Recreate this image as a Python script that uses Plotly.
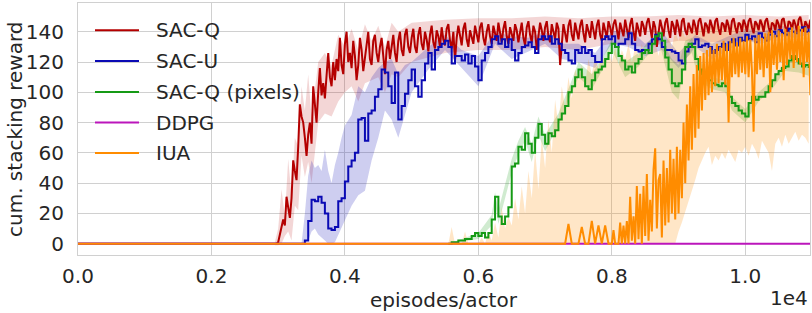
import plotly.graph_objects as go

# ---------------- data ----------------
# SAC-Q (red): flat 0, then values every 25 episodes from 3000
sacq_x = [0, 2975] + list(range(3000, 11000, 25))
sacq_y = [0, 0,
    1, 6, 10, 16, 12, 31, 24, 17, 30, 55, 48, 42, 64, 92, 84, 80, 70, 58, 72, 80,
    66, 104, 92, 80, 100, 116, 98, 106, 96, 114, 126, 110, 104, 120, 108, 122, 114, 136, 118, 112,
    132, 140, 120, 126, 116, 134, 124, 108, 118, 136, 128, 114, 124, 132, 140, 122, 118, 134, 138, 126,
    120, 130, 136, 124, 112, 128, 134, 122, 130, 138, 126, 120, 134, 140, 128, 124, 138, 142, 130, 126,
    136, 142, 130, 126, 138, 143, 132, 128, 140, 135, 127, 138, 144, 133, 129, 141, 137, 130, 143, 135,
    131, 142, 145, 134, 129, 140, 121, 136, 144, 138, 131, 142, 146, 135, 130, 141, 137, 132, 144, 139,
    133, 143, 146, 136, 131, 140, 145, 137, 132, 144, 139, 134, 146, 140, 133, 142, 147, 137, 132, 143,
    138, 134, 145, 141, 133, 140, 146, 136, 131, 143, 147, 138, 133, 144, 140, 128, 137, 146, 141, 134,
    143, 147, 137, 133, 145, 140, 135, 146, 142, 118, 134, 145, 139, 133, 144, 148, 138, 134, 146, 141,
    135, 144, 148, 139, 133, 145, 141, 136, 147, 142, 135, 144, 148, 138, 134, 146, 141, 136, 147, 143,
    137, 145, 148, 140, 135, 146, 142, 137, 148, 143, 136, 145, 149, 140, 134, 146, 142, 137, 147, 144,
    138, 146, 149, 141, 136, 147, 143, 130, 138, 148, 143, 137, 146, 149, 141, 136, 147, 144, 138, 148,
    143, 137, 147, 149, 141, 138, 146, 143, 139, 148, 144, 138, 147, 149, 142, 137, 146, 144, 139, 148,
    144, 139, 147, 149, 142, 138, 146, 145, 140, 148, 144, 138, 147, 149, 143, 139, 146, 145, 140, 148,
    145, 140, 147, 149, 143, 139, 147, 145, 141, 148, 145, 140, 147, 149, 143, 139, 146, 145, 141, 148,
    145, 140, 148, 149, 143, 140, 147, 146, 141, 148, 145, 140, 148, 150, 144, 140, 147, 145, 142, 148]
sacq_band_x = [2950, 3000, 3050, 3100, 3150, 3200, 3250, 3300, 3350, 3400, 3450, 3500,
               3600, 3700, 3800, 3900, 4000, 4100, 4200, 4300, 4400, 4500, 4600, 4700,
               4800, 5000, 5500, 6000, 6500, 7000, 7500, 8000, 8500, 9000, 9500, 10000,
               10500, 10950]
sacq_band_hi = [1, 10, 36, 18, 56, 32, 70, 64, 104, 88, 112, 84,
                120, 126, 118, 138, 130, 142, 128, 145, 134, 144, 130, 146,
                140, 146, 148, 149, 149, 150, 149, 150, 150, 151, 150, 151,
                150, 151]
sacq_band_lo = [-1, -1, 0, 5, 8, 2, 25, 22, 58, 44, 54, 40,
                80, 86, 84, 94, 100, 104, 94, 106, 108, 110, 100, 112,
                110, 120, 126, 128, 128, 130, 128, 132, 130, 134, 133, 134,
                134, 135]

# SAC-U (blue)
sacu_x = [0, 3350] + list(range(3400, 11000, 50))
sacu_y = [0, 0,
    2, 15,
    29, 28, 31, 27, 20, 10, 9, 11, 28, 30,
    41, 51, 55, 60, 82, 83, 68, 86, 88, 97,
    102, 115, 113, 104, 93, 113, 82, 91, 99, 108,
    115, 104, 97, 108, 119, 126, 115, 128, 130, 132,
    134, 130, 119, 124, 124, 121, 125, 119, 124, 117,
    108, 121, 126, 130, 135, 137, 132, 135, 130, 135,
    128, 121, 126, 130, 131, 133, 130, 126, 135, 137,
    135, 137, 132, 135, 132, 128, 126, 121, 119, 128,
    126, 130, 126, 128, 124, 120, 120, 135, 137, 135,
    137, 130, 132, 132, 135, 139, 132, 128, 127, 128,
    128, 132, 135, 138, 135, 130, 128, 128, 127, 126,
    121, 119, 127, 130, 132, 135, 130, 131, 132, 130,
    126, 128, 130, 132, 128, 133, 135, 131, 136, 134,
    138, 135, 137, 133, 139, 136, 134, 138, 140, 137,
    141, 139, 138, 142, 140, 139, 141, 143, 140, 142]
sacu_band_x = [3350, 3400, 3450, 3500, 3550, 3600, 3650, 3700, 3750, 3800, 3850, 3900,
               3950, 4000, 4100, 4200, 4300, 4400, 4500, 4600, 4700, 4800, 4900, 5000,
               5250, 5500, 5750, 6000, 6250, 6500, 6750, 7000, 7250, 7500, 7750, 8000,
               8250, 8500, 8750, 9000, 9250, 9500, 9750, 10000, 10250, 10500, 10750, 10950]
sacu_band_hi = [0, 20, 45, 55, 50, 52, 48, 62, 48, 40, 52, 60,
                70, 78, 85, 104, 100, 110, 116, 120, 122, 112, 118, 120,
                130, 138, 128, 124, 140, 137, 136, 140, 132, 132, 126, 140,
                142, 132, 140, 126, 138, 132, 137, 142, 140, 144, 143, 145]
sacu_band_lo = [0, 0, 2, 8, 10, 6, 4, 2, 0, 0, 1, 5,
                10, 15, 25, 32, 35, 55, 70, 88, 82, 70, 85, 100,
                115, 128, 116, 104, 132, 122, 127, 132, 122, 120, 116, 132,
                130, 124, 128, 116, 130, 122, 128, 134, 132, 137, 136, 138]

# SAC-Q (pixels) (green)
pix_x = list(range(5550, 11000, 50))
pix_y = [
    0, 1, 1, 2, 2, 3, 3, 5, 7,
    5, 7, 4, 7, 16, 31, 18, 13, 18, 24,
    51, 53, 64, 62, 73, 66, 60, 70, 79, 72,
    66, 73, 71, 75, 82, 86, 91, 100, 104, 110,
    115, 110, 104, 102, 108, 113, 115, 117, 122, 126,
    132, 130, 124, 121, 115, 117, 113, 119, 122, 126,
    128, 126, 132, 137, 139, 134, 123, 115, 106, 104,
    106, 115, 130, 132, 130, 122, 115, 112, 110, 108,
    106, 105, 104, 106, 104, 97, 93, 91, 88, 86,
    84, 93, 97, 95, 97, 97, 100, 104, 108, 112,
    114, 116, 117, 121, 124, 122, 119, 117, 118, 116]
pix_band_x = [5550, 6000, 6200, 6250, 6300, 6500, 6600, 6700, 6800, 6900, 7000, 7200,
              7400, 7500, 7700, 7900, 8000, 8200, 8400, 8600, 8700, 8800, 8900, 9000,
              9100, 9200, 9300, 9500, 9700, 9800, 10000, 10200, 10400, 10600, 10800, 10950]
pix_band_hi = [0, 7, 19, 34, 22, 56, 68, 77, 66, 84, 72, 86,
               108, 120, 112, 126, 135, 120, 126, 136, 141, 130, 122, 118,
               134, 136, 122, 110, 108, 97, 89, 100, 108, 121, 122, 120]
pix_band_lo = [0, 3, 12, 27, 13, 47, 59, 68, 54, 72, 61, 78,
               100, 110, 102, 118, 128, 110, 117, 128, 135, 118, 100, 95,
               122, 126, 108, 102, 100, 88, 80, 94, 102, 114, 113, 111]

# DDPG (magenta)
ddpg_x = [0, 2000, 4000, 6000, 8000, 10000, 11000]
ddpg_y = [0, 0, 0, 0, 0, 0, 0]

# IUA (orange)
iua_x = [0] + list(range(7300, 8000, 50)) + list(range(8000, 11000, 25))
iua_y = [0,
    0, 13, 0, 0, 0, 11, 0, 0, 15, 0, 12, 0, 12, 0,
    0, 9, 0, 0, 0, 14, 0, 12, 0, 15, 0, 31, 2, 18, 0, 38, 3, 33, 0, 38,
    5, 46, 2, 29, 8, 49, 63, 10, 42, 46, 4, 55, 12, 50, 14, 62, 20, 56, 16, 64,
    20, 62, 30, 80, 40, 92, 55, 104, 62, 112, 70, 118, 76, 124, 88, 126, 95, 128, 98, 130,
    100, 128, 104, 132, 106, 130, 108, 134, 105, 132, 80, 134, 110, 136, 112, 133, 110, 136, 113, 134,
    112, 137, 110, 135, 114, 74, 136, 112, 138, 115, 136, 110, 139, 116, 140, 100, 141, 118, 138, 115,
    141, 120, 139, 108, 142, 118, 140, 122, 143, 116, 141, 120, 144, 118, 142, 110, 143, 120, 140, 98]
iua_band_x = list(range(5500, 11000, 50))
iua_band_hi = [
    0, 0, 11, 0, 0, 0, 8, 0, 0, 0,
    0, 4, 0, 8, 2, 14, 4, 24, 10, 18,
    12, 30, 16, 38, 20, 48, 30, 62, 36, 70,
    50, 82, 60, 95, 78, 104, 90, 110, 96, 115,
    108, 118, 105, 122, 112, 124, 115, 126, 118, 128,
    120, 130, 118, 128, 122, 132, 120, 130, 124, 132,
    122, 133, 126, 134, 124, 136, 128, 138, 130, 140,
    134, 142, 136, 144, 138, 145, 140, 146, 141, 146,
    142, 147, 143, 146, 144, 148, 143, 147, 145, 148,
    144, 148, 145, 147, 146, 149, 145, 148, 146, 149,
    146, 149, 147, 148, 146, 149, 147, 149, 146, 148]
iua_band_lo = [
    0, 0, 0, 0, 0, 0, 0, 0, 0, 0,
    0, 0, 0, 0, 0, 0, 0, 0, 0, 0,
    0, 0, 0, 0, 0, 0, 0, 0, 0, 0,
    0, 0, 0, 0, 0, 0, 0, 0, 0, 0,
    0, 0, 0, 0, 0, 0, 0, 0, 0, 0,
    0, 0, 0, 0, 0, 0, 0, 0, 0, 0,
    0, 0, 0, 0, 0, 0, 0, 0, 0, 0,
    8, 14, 20, 28, 35, 42, 50, 55, 60, 64,
    52, 58, 55, 60, 56, 62, 58, 54, 62, 60,
    64, 58, 66, 62, 56, 68, 64, 60, 48, 66,
    70, 64, 72, 66, 70, 74, 68, 72, 70, 66]

xtick_vals = [0, 2000, 4000, 6000, 8000, 10000]
xtick_text = ["0.0", "0.2", "0.4", "0.6", "0.8", "1.0"]
ytick_vals = [0, 20, 40, 60, 80, 100, 120, 140]

# ---------------- figure ----------------
FONT = "DejaVu Sans"
TXT = "#262626"
GRID = "#d0d0d0"
FS = 20

series = [
    ("SAC-Q", sacq_x, sacq_y, sacq_band_x, sacq_band_hi, sacq_band_lo, "#b40000", "rgba(180,0,0,0.16)", "linear"),
    ("SAC-U", sacu_x, sacu_y, sacu_band_x, sacu_band_hi, sacu_band_lo, "#0a0ab4", "rgba(10,10,180,0.2)", "hv"),
    ("SAC-Q (pixels)", pix_x, pix_y, pix_band_x, pix_band_hi, pix_band_lo, "#159a15", "rgba(21,154,21,0.2)", "hv"),
    ("DDPG", ddpg_x, ddpg_y, None, None, None, "#bb16bb", None, "linear"),
    ("IUA", iua_x, iua_y, iua_band_x, iua_band_hi, iua_band_lo, "#ff8c00", "rgba(255,140,0,0.22)", "linear"),
]

fig = go.Figure()
for name, x, y, bx, bhi, blo, col, fcol, shape in series:
    if bx is not None:
        fig.add_trace(go.Scatter(
            x=list(bx) + list(bx)[::-1], y=list(bhi) + list(blo)[::-1],
            fill="toself", fillcolor=fcol, line=dict(width=0),
            mode="lines", showlegend=False, hoverinfo="skip"))
for name, x, y, bx, bhi, blo, col, fcol, shape in series:
    fig.add_trace(go.Scatter(
        x=x, y=y, name=name, mode="lines", showlegend=False,
        line=dict(color=col, width=2, shape=shape)))

# legend drawn in paper coordinates (line sample + label)
PLOT_L, PLOT_W, PLOT_B, PLOT_H = 78, 732, 255, 252
def px_x(p):
    return (p - PLOT_L) / PLOT_W
def px_y(p):
    return (PLOT_B - p) / PLOT_H

legend_rows = [30.3, 61.0, 92.0, 122.5, 153.0]
shapes = []
annotations = []
for (name, *_rest), row in zip(series, legend_rows):
    col = _rest[5]
    shapes.append(dict(type="line", xref="paper", yref="paper",
                       x0=px_x(95), x1=px_x(139), y0=px_y(row), y1=px_y(row),
                       line=dict(color=col, width=2)))
    annotations.append(dict(text=name, xref="paper", yref="paper",
                            x=px_x(154), y=px_y(row), xanchor="left", yanchor="middle",
                            showarrow=False, font=dict(family=FONT, size=FS, color=TXT)))

annotations += [
    dict(text="episodes/actor", xref="paper", yref="paper", x=0.5, y=px_y(300),
         xanchor="center", yanchor="middle", showarrow=False,
         font=dict(family=FONT, size=FS, color=TXT)),
    dict(text="1e4", xref="paper", yref="paper", x=px_x(810), y=px_y(298),
         xanchor="right", yanchor="middle", showarrow=False,
         font=dict(family=FONT, size=FS, color=TXT)),
    dict(text="cum. stacking reward", xref="paper", yref="paper", x=px_x(15), y=px_y(129),
         xanchor="center", yanchor="middle", textangle=-90, showarrow=False,
         font=dict(family=FONT, size=FS, color=TXT)),
]

fig.update_layout(
    width=812, height=313,
    margin=dict(l=78, r=2, t=3, b=58),
    paper_bgcolor="white", plot_bgcolor="white",
    font=dict(family=FONT, size=FS, color=TXT),
    showlegend=False,
    xaxis=dict(range=[0, 10970], tickvals=xtick_vals, ticktext=xtick_text,
               showgrid=True, gridcolor=GRID, gridwidth=1,
               showline=True, linecolor=GRID, linewidth=1, mirror=True,
               zeroline=False, ticks="", ticklabelstandoff=3, automargin=False),
    yaxis=dict(range=[-7.5, 159], tickvals=ytick_vals,
               showgrid=True, gridcolor=GRID, gridwidth=1,
               showline=True, linecolor=GRID, linewidth=1, mirror=True,
               zeroline=False, ticks="", ticklabelstandoff=9, automargin=False),
    shapes=shapes,
    annotations=annotations,
)

fig.write_html("out.html", config={"displayModeBar": False},
               post_script="document.body.style.margin='0';document.body.style.padding='0';")
